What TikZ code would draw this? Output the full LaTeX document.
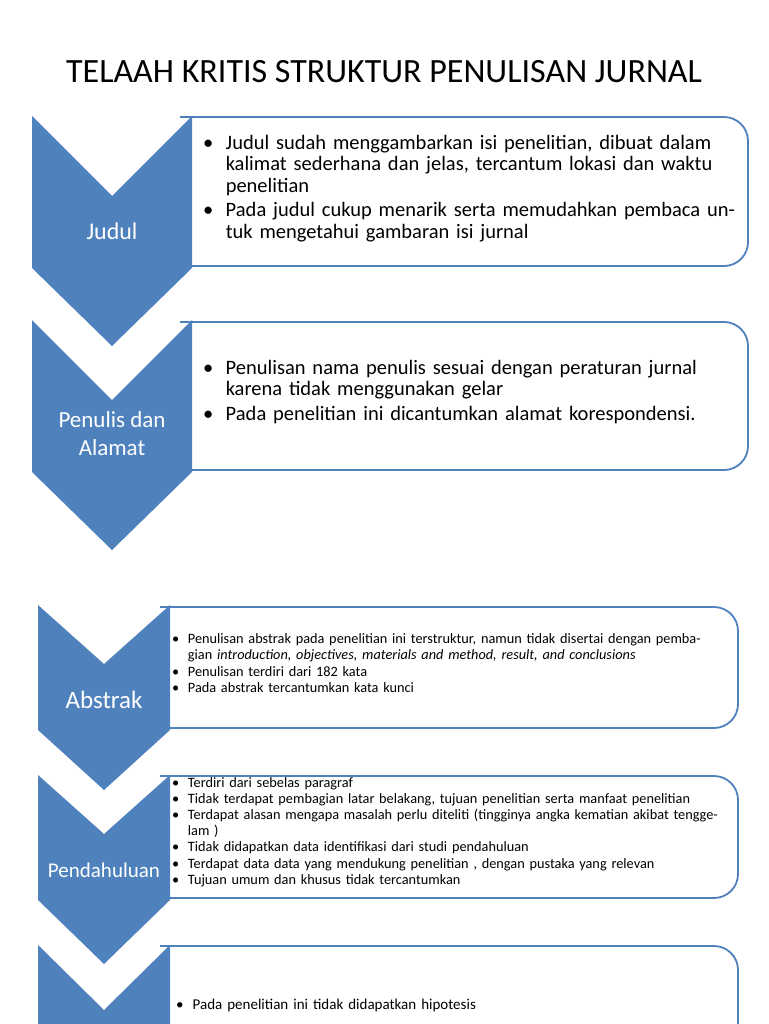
\documentclass[tikz,border=0pt]{standalone}
\usepackage{fontspec}
\setmainfont{Carlito}
\definecolor{cblue}{RGB}{79,129,189}
\newcommand{\bi}[1]{\hangindent=1.1em\hangafter=1\noindent\makebox[1.1em][l]{\textbullet}#1\par}
\begin{document}
\begin{tikzpicture}[x=1pt,y=-1pt,
  box/.style={draw=cblue,line width=1.8pt,fill=white,rounded corners=24pt},
  chev/.style={fill=cblue,draw=none},
  lab/.style={text=white,align=center},
  big/.style={anchor=north west,text width=542pt,align=left,font=\fontsize{20.5}{21.5}\selectfont\raggedright,inner sep=0pt},
  small/.style={anchor=north west,text width=548pt,align=left,font=\fontsize{14.3}{16.2}\selectfont\raggedright,inner sep=0pt}]
\useasboundingbox[fill=white] (0,0) rectangle (768,1024);
\node (title) at (384,72) {\fontsize{34}{38}\selectfont TELAAH KRITIS STRUKTUR PENULISAN JURNAL};
% box 1
\draw[box] (180,117) -- (748,117) -- (748,266) -- (180,266);
\fill[chev] (32,116) -- (112,196) -- (192,116) -- (192,268) -- (112,346) -- (32,268) -- cycle;
\node[lab,font=\fontsize{24}{28}\selectfont] (judul) at (112,231) {Judul};
\node[big] (t1) at (203,135) {\bi{Judul sudah menggambarkan isi penelitian, dibuat dalam kalimat sederhana dan jelas, tercantum lokasi dan waktu penelitian}\vspace{3pt}\bi{Pada judul cukup menarik serta memudahkan pembaca untuk mengetahui gambaran isi jurnal}};
% box 2
\draw[box] (180,322) -- (748,322) -- (748,470) -- (180,470);
\fill[chev] (32,320) -- (112,400) -- (192,320) -- (192,472) -- (112,550) -- (32,472) -- cycle;
\node[lab,font=\fontsize{23}{28}\selectfont] (penulis) at (112,434) {Penulis dan\\Alamat};
\node[big] (t2) at (203,360) {\bi{Penulisan nama penulis sesuai dengan peraturan jurnal karena tidak menggunakan gelar}\vspace{3pt}\bi{Pada penelitian ini dicantumkan alamat korespondensi.}};
% box 3
\draw[box] (160,607) -- (738,607) -- (738,728) -- (160,728);
\fill[chev] (38,605) -- (104,664) -- (170,605) -- (170,730) -- (104,790) -- (38,730) -- cycle;
\node[lab,font=\fontsize{25}{28}\selectfont] (abstrak) at (104,700) {Abstrak};
\node[small] (t3) at (172,633) {\bi{Penulisan abstrak pada penelitian ini terstruktur, namun tidak disertai dengan pembagian \textit{introduction, objectives, materials  and method, result, and conclusions}}\vspace{1pt}\bi{Penulisan terdiri dari 182 kata}\bi{Pada abstrak tercantumkan kata kunci}};
% box 4
\draw[box] (160,776) -- (738,776) -- (738,898) -- (160,898);
\fill[chev] (38,775) -- (104,834) -- (170,775) -- (170,900) -- (104,964) -- (38,900) -- cycle;
\node[lab,font=\fontsize{21}{24}\selectfont] (pend) at (104,870) {Pendahuluan};
\node[small] (t4) at (172,777) {\bi{Terdiri dari sebelas paragraf}\bi{Tidak terdapat pembagian latar belakang,  tujuan penelitian serta manfaat penelitian}\bi{Terdapat alasan mengapa masalah perlu diteliti (tingginya angka kematian akibat tenggelam )}\bi{Tidak didapatkan data identifikasi dari studi pendahuluan}\bi{Terdapat data data yang mendukung penelitian , dengan pustaka yang relevan}\bi{Tujuan umum dan khusus tidak tercantumkan}};
% box 5
\draw[box] (160,946) -- (738,946) -- (738,1060) -- (160,1060);
\fill[chev] (38,945) -- (104,1010) -- (170,945) -- (170,1060) -- (38,1060) -- cycle;
\node[small,font=\fontsize{15}{17}\selectfont] (t5) at (176,999) {\bi{Pada penelitian ini tidak didapatkan hipotesis}};
\end{tikzpicture}
\end{document}
